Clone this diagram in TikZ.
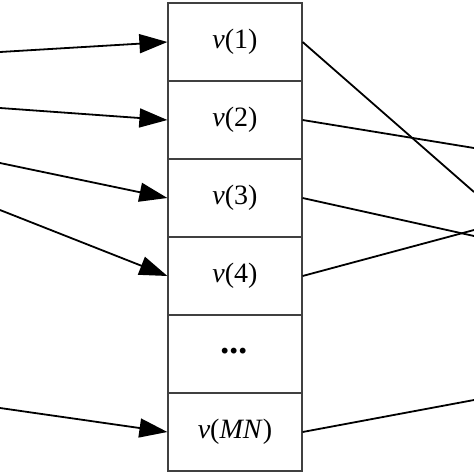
\documentclass[tikz,border=0pt]{standalone}
\usepackage{fontspec}
\setmainfont{Liberation Serif}
\usetikzlibrary{arrows.meta}
\begin{document}
\begin{tikzpicture}[x=1pt,y=-1pt,
  cell/.style={draw=black!75,line width=1.2pt,minimum width=134pt,minimum height=78pt,inner sep=0pt,font=\fontsize{28}{30}\selectfont,fill=white,text depth=6pt},
  conn/.style={line width=1.8pt},
  arr/.style={conn,-{Triangle[length=28pt,width=19pt]}}]
\useasboundingbox (0,0) rectangle (474,474);
\clip (0,0) rectangle (474,474);
\node[cell] (b1) at (235,42) {\textit{v}(1)};
\node[cell] (b2) at (235,120) {\textit{v}(2)};
\node[cell] (b3) at (235,198) {\textit{v}(3)};
\node[cell] (b4) at (235,276) {\textit{v}(4)};
\node[cell] (b5) at (235,354) {\fontsize{36}{38}\selectfont\textbf{\textit{...}}};
\node[cell] (b6) at (235,432) {\textit{v}(\textit{MN})};
\coordinate (l1) at (0,52);
\coordinate (l2) at (0,108);
\coordinate (l3) at (0,163);
\coordinate (l4) at (0,210);
\coordinate (l6) at (0,408);
\coordinate (r1) at (474,192);
\coordinate (r2) at (474,148);
\coordinate (r3) at (474,236);
\coordinate (r4) at (474,230);
\coordinate (r6) at (474,400);
\draw[arr] (l1) -- (b1.west);
\draw[arr] (l2) -- (b2.west);
\draw[arr] (l3) -- (b3.west);
\draw[arr] (l4) -- (b4.west);
\draw[arr] (l6) -- (b6.west);
\draw[conn] (b1.east) -- (r1);
\draw[conn] (b2.east) -- (r2);
\draw[conn] (b3.east) -- (r3);
\draw[conn] (b4.east) -- (r4);
\draw[conn] (b6.east) -- (r6);
\end{tikzpicture}
\end{document}
